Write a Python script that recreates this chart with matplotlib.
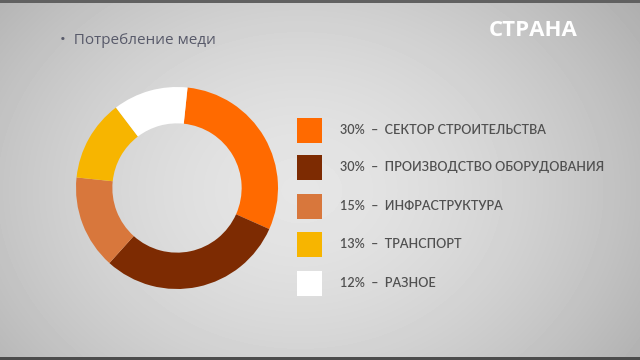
import numpy as np
import matplotlib.pyplot as plt
from matplotlib.patches import Rectangle

# data
shares = [30, 30, 15, 13, 12]
names = ["СЕКТОР СТРОИТЕЛЬСТВА", "ПРОИЗВОДСТВО ОБОРУДОВАНИЯ",
         "ИНФРАСТРУКТУРА", "ТРАНСПОРТ", "РАЗНОЕ"]
colors = ["#ff6a00", "#7d2b02", "#d8773c", "#f7b500", "#ffffff"]
title = "Потребление меди"
brand = "СТРАНА"

W, H = 640, 360
fig = plt.figure(figsize=(6.4, 3.6), dpi=100)

# background gradient
bg = fig.add_axes([0, 0, 1, 1])
yy, xx = np.mgrid[0:H, 0:W]
d = np.sqrt(((xx - 300) / 420.0) ** 2 + ((yy - 190) / 330.0) ** 2)
g = 0.90 - 0.22 * d ** 1.6
g[:3, :] = 0.38
g[-3:, :] = 0.30
bg.imshow(g, cmap="gray", vmin=0, vmax=1, extent=[0, W, H, 0], aspect="auto")
bg.set_xlim(0, W)
bg.set_ylim(H, 0)
bg.axis("off")

# donut
cx, cy, r = 177, 188, 101
ax = fig.add_axes([(cx - r) / W, 1 - (cy + r) / H, 2 * r / W, 2 * r / H])
ax.pie(shares, colors=colors, startangle=84, counterclock=False,
       wedgeprops=dict(width=0.36, edgecolor="none"))
ax.set_xlim(-1, 1)
ax.set_ylim(-1, 1)
ax.set_aspect("equal")
ax.axis("off")

# legend
ys = [130, 167, 206, 244, 283]
for v, n, c, y in zip(shares, names, colors, ys):
    bg.add_patch(Rectangle((297, y - 12.5), 25, 25, facecolor=c, edgecolor="none"))
    bg.text(340, y, f"{v}%  –  {n}", fontsize=9.1, color="#505050",
            va="center", family="Lato", fontweight="semibold")

bg.text(60, 41, "•  " + title, fontsize=11, color="#585a6a", va="center",
        family="Open Sans")
bg.text(489, 31, brand, fontsize=16, color="white", va="center",
        family="Open Sans", fontweight="bold")

fig.savefig("out.png", dpi=100)
